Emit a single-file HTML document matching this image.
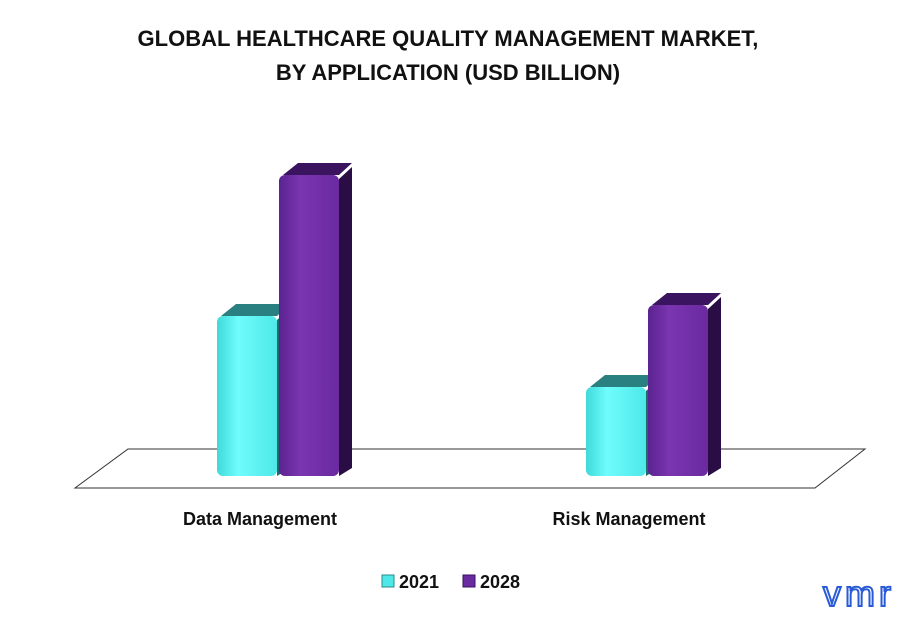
<!DOCTYPE html>
<html><head><meta charset="utf-8">
<style>
body{margin:0;background:#fff;width:897px;height:615px;overflow:hidden;font-family:"Liberation Sans",sans-serif}
</style></head>
<body>
<svg id="chart" width="897" height="615" xmlns="http://www.w3.org/2000/svg">
<defs>
<linearGradient id="gc" x1="0" x2="1" y1="0" y2="0"><stop offset="0" stop-color="#3fd9d9"/><stop offset="0.35" stop-color="#6ffcfc"/><stop offset="1" stop-color="#4ee8e8"/></linearGradient>
<linearGradient id="gp" x1="0" x2="1" y1="0" y2="0"><stop offset="0" stop-color="#5a2390"/><stop offset="0.35" stop-color="#7a35b0"/><stop offset="1" stop-color="#6a2aa0"/></linearGradient>
</defs>
<text x="448" y="46" text-anchor="middle" font-weight="bold" font-size="22" fill="#111">GLOBAL HEALTHCARE QUALITY MANAGEMENT MARKET,</text>
<text x="448" y="80" text-anchor="middle" font-weight="bold" font-size="22" fill="#111">BY APPLICATION (USD BILLION)</text>
<polygon points="75,488 815,488 865,449 128,449" fill="#fff" stroke="#333" stroke-width="1"/>
<g id="bars"></g>
<g>
<rect x="382" y="575" width="12" height="12" fill="#4ee8e8" stroke="#2a8a8a"/>
<text x="399" y="588" font-size="18" font-weight="bold" fill="#111">2021</text>
<rect x="463" y="575" width="12" height="12" fill="#6a2aa0" stroke="#3a1060"/>
<text x="480" y="588" font-size="18" font-weight="bold" fill="#111">2028</text>
</g>
<text x="823" y="606" font-size="36" fill="#fff" stroke="#2a5bd7" stroke-width="2" textLength="68">vmr</text>
</svg>
<script>
const categories=["Data Management","Risk Management"];
const series2021=[1.60,0.89];
const series2028=[3.01,1.71];
const seriesNames=["2021","2028"];
const svg=document.getElementById('bars');
const NS="http://www.w3.org/2000/svg";
const base=476, pxPerUnit=100, barW=60;
const catX=[217,586];
function yScale(v){return base-v*pxPerUnit;}
function mk(tag,attrs){const e=document.createElementNS(NS,tag);for(const k in attrs)e.setAttribute(k,attrs[k]);return e;}
[series2021,series2028].forEach((s,si)=>{
  s.forEach((v,ci)=>{
    const x=catX[ci]+si*(barW+2), y=yScale(v), dx=13, dy=12;
    const g=mk('g',{});
    
    
    const side=si?'#2a0d45':'#1f6b6b', top=si?'#3a145e':'#2a8080';
    g.appendChild(mk('path',{d:`M${x+barW} ${y+4} L${x+barW+dx} ${y-dy+4} L${x+barW+dx} ${base-dy+4} L${x+barW} ${base} Z`,fill:side}));
    g.appendChild(mk('path',{d:`M${x+4} ${y} L${x+dx+6} ${y-dy} L${x+barW+dx} ${y-dy} L${x+barW} ${y} Z`,fill:top}));
    g.appendChild(mk('rect',{x:x,y:y,width:barW,height:base-y,rx:6,fill:si?'url(#gp)':'url(#gc)'}));
    svg.appendChild(g);
  });
});
categories.forEach((c,ci)=>{
  const t=mk('text',{x:catX[ci]+43,y:525,'text-anchor':'middle','font-size':'18','font-weight':'bold',fill:'#111'});
  
  
  t.textContent=c;svg.appendChild(t);
});
</script>
</body></html>
